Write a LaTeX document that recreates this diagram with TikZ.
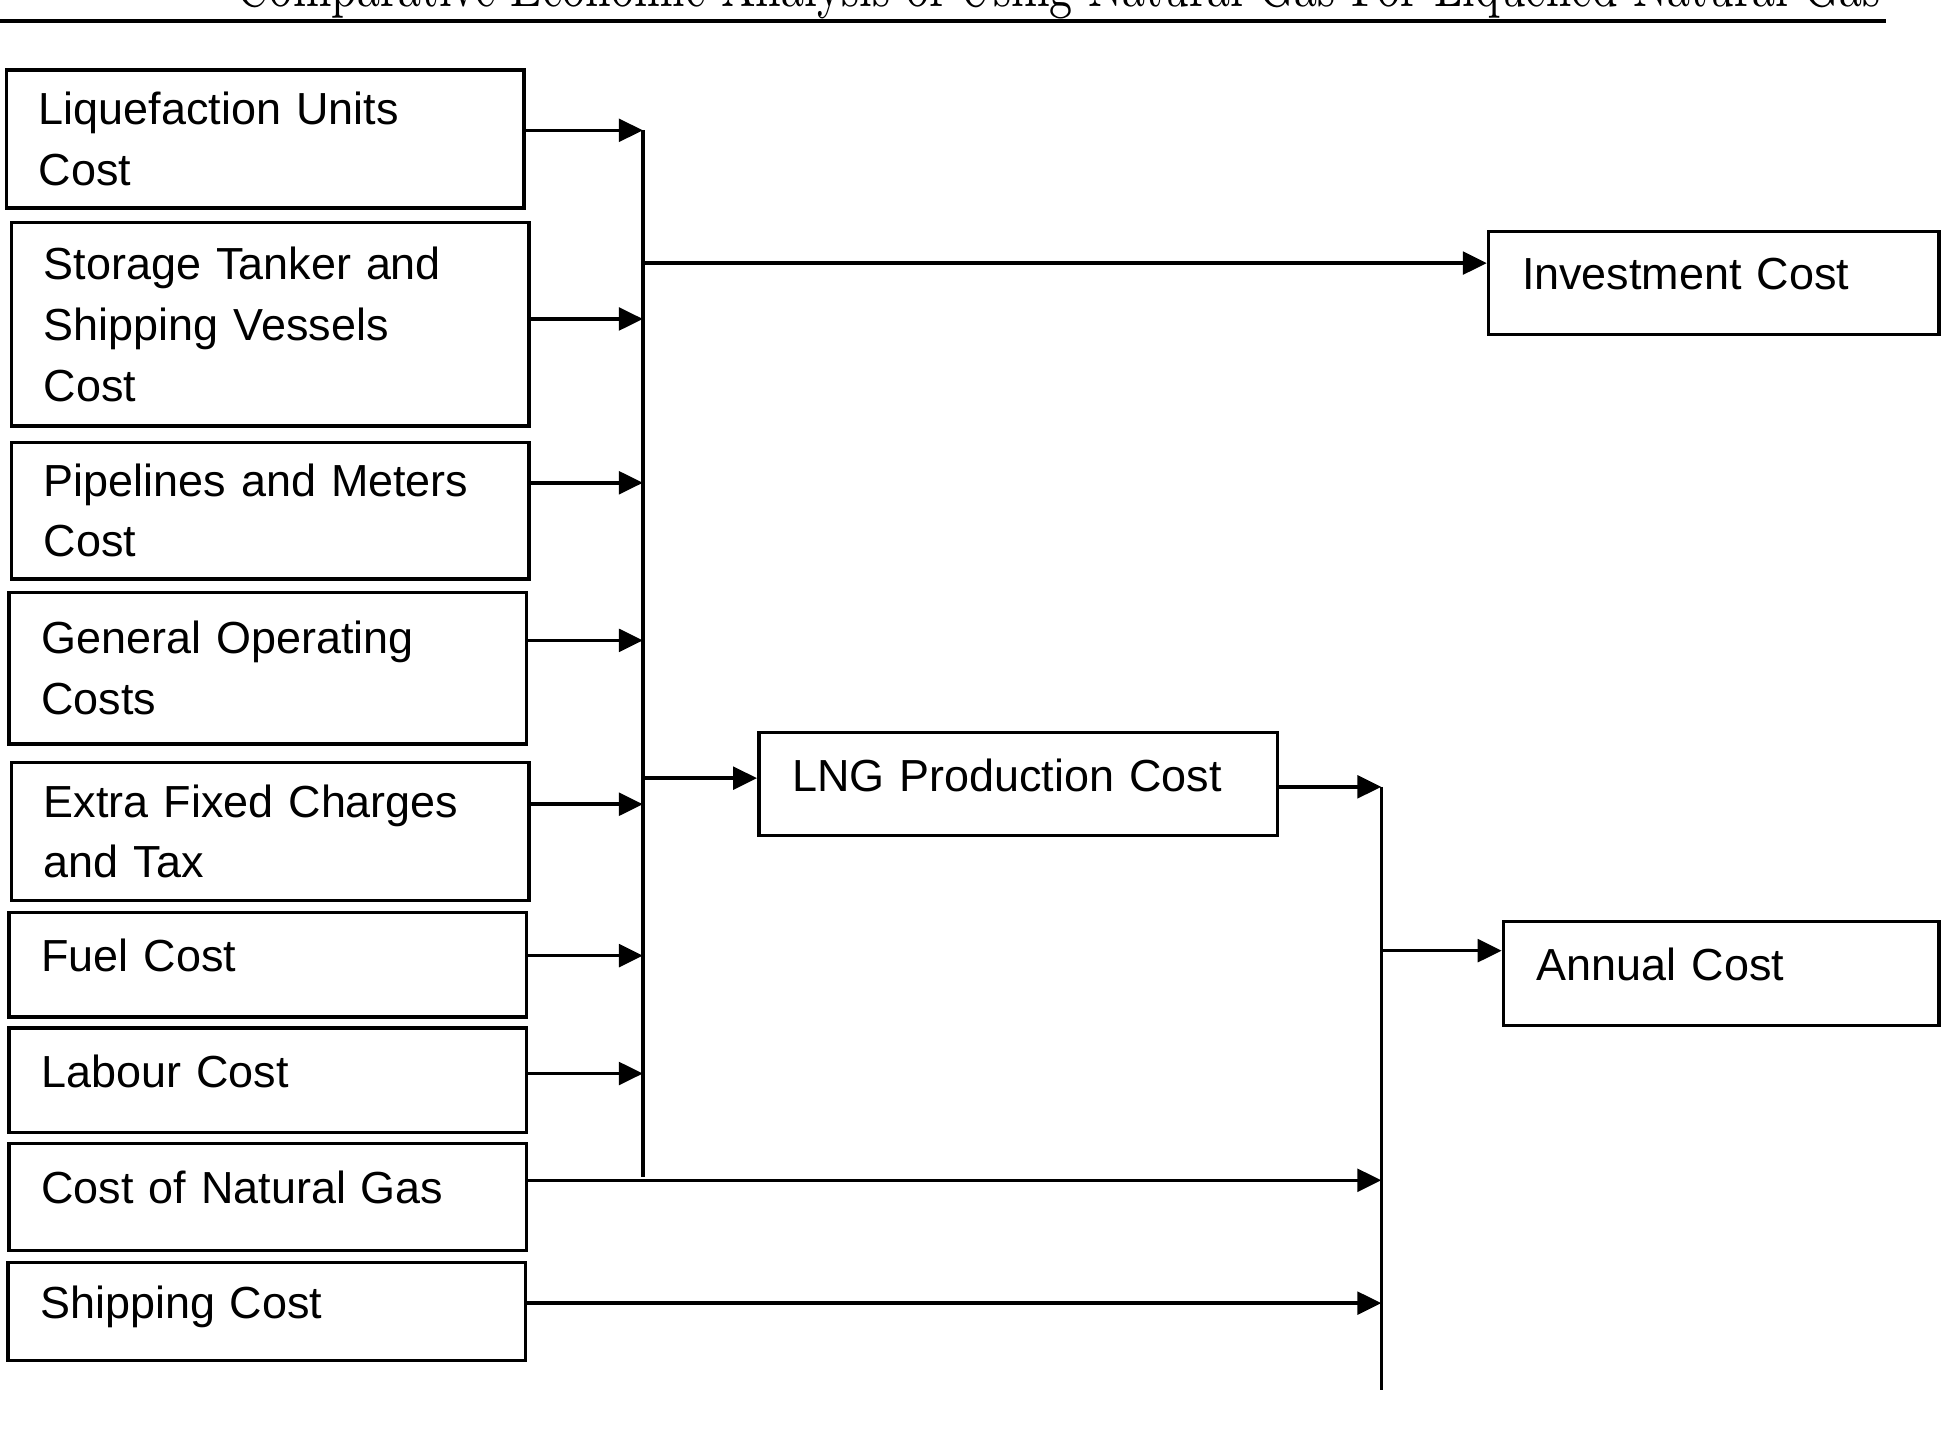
\documentclass[tikz,border=0pt]{standalone}
\usepackage{graphicx}
\usepackage{fontspec}
\newfontfamily\boxfont{Liberation Sans}
\usepackage{tikz}
\usetikzlibrary{arrows.meta,positioning}

\begin{document}
\begin{tikzpicture}[x=0.1mm,y=-0.1mm,
    costbox/.style={draw, line width=0.8pt, anchor=north west, align=left,
        inner xsep=2.6mm, inner ysep=0pt, text width=36.5mm,
        font=\boxfont\fontsize{10.3pt}{13.9pt}\selectfont},
    resultbox/.style={draw, line width=0.8pt, anchor=north west, align=left,
        inner xsep=2.7mm, inner ysep=0pt,
        font=\boxfont\fontsize{10.3pt}{13.9pt}\selectfont},
    oneline/.style={text height=2.6mm, text depth=1.5mm},
    feed/.style={line width=0.8pt, -{Triangle[length=5.5pt,width=5.2pt]}},
    bus/.style={line width=0.8pt}]

    \useasboundingbox (0,0) rectangle (1568,1162);

    % page header, cut at the top
    \begin{scope}
        \clip (0,0) rectangle (1568,1162);
        \node[anchor=base west, inner sep=0pt] (head) at (190,5)
            {\resizebox{132.5mm}{3.5mm}{Comparative Economic Analysis of Using Natural Gas For Liquefied Natural Gas}};
    \end{scope}
    \draw[line width=0.8pt] (0,17) -- (1520,17);

    % cost items
    \node[costbox, minimum height=11.1mm] (liq)   at (4,55)    {Liquefaction Units\\Cost};
    \node[costbox, minimum height=16.4mm] (stor)  at (8,178)   {Storage Tanker and\\Shipping Vessels\\Cost};
    \node[costbox, minimum height=11.0mm] (pipe)  at (8,355)   {Pipelines and Meters\\Cost};
    \node[costbox, minimum height=12.2mm] (oper)  at (6,476)   {General Operating\\Costs};
    \node[costbox, minimum height=11.1mm] (extra) at (8,613)   {Extra Fixed Charges\\and Tax};
    \node[costbox, oneline, minimum height=8.4mm] (fuel) at (6,734)  {Fuel Cost};
    \node[costbox, oneline, minimum height=8.4mm] (lab)  at (6,827)  {Labour Cost};
    \node[costbox, oneline, minimum height=8.6mm] (gas)  at (6,920)  {Cost of Natural Gas};
    \node[costbox, oneline, minimum height=7.9mm] (ship) at (5,1016) {Shipping Cost};

    % results
    \node[resultbox, oneline, text width=30.9mm, minimum height=8.3mm] (inv) at (1198,185) {Investment Cost};
    \node[resultbox, oneline, text width=36.4mm, minimum height=8.3mm] (lng) at (610,589)  {LNG Production Cost};
    \node[resultbox, oneline, text width=29.7mm, minimum height=8.4mm] (ann) at (1210,741) {Annual Cost};

    % left collector
    \foreach \src/\yy in {liq/105, stor/257, pipe/389, oper/516, extra/648, fuel/770, lab/865} {
        \coordinate (\src-in) at (518,\yy);
        \draw[feed] (\src.east |- \src-in) -- (\src-in);
    }
    \coordinate (lbot) at (518,948);
    \draw[bus] (liq-in) -- (lbot);

    \coordinate (inv-in) at (518,212);
    \draw[feed] (inv-in) -- (inv.west |- inv-in);
    \coordinate (lng-in) at (518,627);
    \draw[feed] (lng-in) -- (lng.west |- lng-in);

    % right collector
    \coordinate (lng-out) at (1113,634);
    \coordinate (gas-in) at (1113,951);
    \coordinate (ship-in) at (1113,1050);
    \coordinate (rbot) at (1113,1120);
    \draw[feed] (lng.east |- lng-out) -- (lng-out);
    \draw[feed] (gas.east |- gas-in) -- (gas-in);
    \draw[feed] (ship.east |- ship-in) -- (ship-in);
    \draw[bus] (lng-out) -- (rbot);

    \coordinate (ann-in) at (1113,766);
    \draw[feed] (ann-in) -- (ann.west |- ann-in);

\end{tikzpicture}
\end{document}
